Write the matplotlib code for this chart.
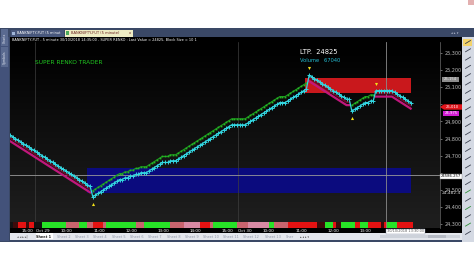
import numpy as np
import matplotlib.pyplot as plt
from matplotlib.patches import Rectangle, Polygon
from matplotlib.colors import LinearSegmentedColormap

# super renko line (cyan), one value per 5 minute bar
renko = [24820, 24810, 24800, 24790, 24780, 24770, 24760, 24750, 24740, 24730,
         24720, 24710, 24700, 24690, 24680, 24670, 24660, 24650, 24640, 24630,
         24620, 24610, 24600, 24590, 24580, 24570, 24560, 24550, 24540, 24530,
         24520,
         24460, 24470, 24480, 24490, 24500, 24510,
         24520, 24530, 24540, 24550,
         24560, 24560, 24570, 24570, 24580, 24580, 24590, 24590,
         24600, 24600, 24600,
         24610, 24620, 24630, 24640, 24650, 24660,
         24660, 24660, 24670, 24670, 24670,
         24680, 24690, 24700, 24710, 24720, 24730, 24740, 24750, 24760, 24770, 24780,
         24790, 24800, 24810, 24820, 24830, 24840, 24850, 24860, 24870,
         24880, 24880, 24880, 24880, 24880, 24880,
         24890, 24900, 24910, 24920, 24930, 24940, 24950, 24960, 24970, 24980,
         24990, 25000, 25010,
         25010, 25010,
         25020, 25030, 25040, 25050, 25060, 25070, 25080, 25090,
         25170,
         25160, 25150, 25140, 25130, 25120, 25110, 25100, 25090, 25080, 25070,
         25060, 25050, 25040, 25030, 25030,
         24960, 24970, 24980, 24990, 25000, 25010, 25010, 25020, 25020,
         25080, 25080, 25080, 25080, 25080, 25080, 25080,
         25070, 25060, 25050, 25040, 25030, 25020, 25010]

buy_bars = [31, 128]
sell_bars = [112, 137]

supply_zone = [110.5, 150.2, 25066, 25154]    # bar from, bar to, low, high
demand_zone = [29.0, 150.2, 24482.4, 24627]

cursor_bar = 140.8
cursor_price = 24586.257
day_breaks = [9.4, 85.4]

time_pos = [6.4, 12.4, 21.3, 33.3, 45.3, 57.3, 69.3, 81.6, 88.0, 96.6, 109.0, 121.0, 133.0]
time_labels = ["15:00", "Oct 29", "10:00", "11:00", "12:00", "13:00", "14:00", "15:00",
               "Oct 30", "10:00", "11:00", "12:00", "13:00"]

# bottom colour strip, runs of bars
strip_codes = ["k", "d", "r", "d", "r", "k", "g", "p", "g", "p", "r", "p", "g", "p", "g",
               "p", "l", "r", "p", "g", "p", "l", "g", "p", "r", "d", "g", "r", "d", "g",
               "g", "r", "g", "r", "d", "r", "g", "r"]
strip_runs = [1, 2, 3, 1, 2, 3, 9, 5, 3, 2, 4, 1, 11, 3, 10,
              5, 6, 4, 1, 9, 4, 8, 2, 5, 11, 3, 3, 1, 2, 2,
              3, 2, 3, 5, 1, 1, 4, 6]
strip_palette = {"k": "#111111", "d": "#3c0b0b", "r": "#e41212", "g": "#27e327",
                 "p": "#c8646e", "l": "#d88aa4"}

# price ticks hidden under the marker boxes on the axis
hidden_ticks = [25000, 24600]

sheet_names = ["Sheet %d" % k for k in range(1, 14)] + ["Sher"]
sheet_x = [44, 63.5, 81.5, 100, 118.5, 136.5, 155, 173.5, 191.5, 210.5, 230.5, 250.5, 272.5, 290]

W, H = 474, 266
fig = plt.figure(figsize=(W / 100, H / 100), dpi=100, facecolor="white")


def box(x, y, w, h):
    return fig.add_axes([x / W, 1 - (y + h) / H, w / W, h / H])


def pixel_axes(zorder):
    a = box(0, 0, W, H)
    a.set_xlim(0, W)
    a.set_ylim(H, 0)
    a.axis("off")
    a.set_zorder(zorder)
    return a


bg = pixel_axes(0)


def rect(a, x, y, w, h, c, **kw):
    a.add_patch(Rectangle((x, y), w, h, facecolor=c, lw=kw.pop("lw", 0), **kw))


# window frame
rect(bg, 0, 28, 474, 214, "#3a4866")
rect(bg, 468, 0, 6, 5, "#e3b0b0")
rect(bg, 0, 37, 9.5, 204, "#43527a")
rect(bg, 1, 29, 7.5, 17, "#5a6a90")
rect(bg, 1, 47, 7.5, 20, "#5a6a90")
bg.text(4.8, 37.5, "Charts", rotation=90, color="#e0e4f0", fontsize=2.3, ha="center", va="center")
bg.text(4.8, 57, "Symbols", rotation=90, color="#e0e4f0", fontsize=2.3, ha="center", va="center")
rect(bg, 10, 37, 452, 196, "black")
rect(bg, 462, 37, 12, 205, "#d4d9e3")
rect(bg, 10, 233, 452, 7, "#e3e6ec")
rect(bg, 380, 235, 80, 2.6, "#cdd2da")
rect(bg, 428, 234.6, 18, 3.4, "#b5bac4")

# tabs
rect(bg, 11, 30, 53, 7, "#48577c")
rect(bg, 12.5, 31.5, 3, 3.5, "#9fb5d8")
bg.text(17, 33.4, "BANKNIFTY-FUT (5 minut", color="white", fontsize=2.5, va="center")
rect(bg, 65, 29.5, 68, 7.5, "#eeecc4")
rect(bg, 66.5, 31.3, 3, 3.5, "#4caa5a")
bg.text(71.5, 33.4, "BANKNIFTY-FUT (5 minute)", color="#6a2020", fontsize=2.6, va="center")
bg.text(130, 33.4, "x", color="#6a2020", fontsize=2.6, va="center", ha="center")
bg.text(455, 33, "\u25c2 \u25b8 \u25be", color="#c8cde0", fontsize=2.4, ha="center", va="center")

# toolbar glyphs
rect(bg, 463.5, 38.5, 8.5, 7, "#f3d36a")
for k, yy in enumerate(np.arange(42, 240, 8.3)):
    col = "#2f8f3a" if yy > 180 and k % 2 == 0 else "#3b4150"
    bg.plot([465.5, 470.5], [yy + 1.5, yy - 1.5], color=col, lw=0.6)

# main price panel
ax = box(10, 42, 430, 186)
ax.set_zorder(1)
grad = LinearSegmentedColormap.from_list("bgc", ["#000000", "#1f1f1f"])
ax.imshow(np.linspace(0, 1, 64)[::-1, None], extent=(0, 161, 24277, 25364), origin="lower",
          cmap=grad, aspect="auto", zorder=0)
ax.set_xlim(0, 161)
ax.set_ylim(24277, 25364)

x = np.arange(len(renko))
r = np.array(renko, dtype=float)
up = np.zeros(len(renko), dtype=bool)
for b, s in zip(buy_bars, sell_bars):
    up[b:s] = True

for z, c in ((supply_zone, "#c9181c"), (demand_zone, "#0b0b7e")):
    ax.add_patch(Rectangle((z[0], z[2]), z[1] - z[0], z[3] - z[2], facecolor=c, lw=0, zorder=1))

for d in day_breaks:
    ax.axvline(d, color="#3e3e3e", lw=0.5, zorder=1.5)
ax.axvline(cursor_bar, color="#8c8c8c", lw=0.6, zorder=2)
ax.axhline(cursor_price, color="#9a9a9a", lw=0.6, zorder=2)

ax.plot(x, np.where(~up, r - 35, np.nan), color="#c0177c", lw=1.6, zorder=3)
ax.plot(x, np.where(~up, r - 17, np.nan), color="#6a0c26", lw=1.4, zorder=3)
ax.plot(x, np.where(up, r + 35, np.nan), color="#1d9a1d", lw=0.8, marker="s", ms=1.3,
        mec="none", mfc="#25b625", zorder=3)
ax.plot(x, r, color="#33d6e0", lw=0.9, marker="+", ms=2.6, mew=0.7, zorder=4)

ax.scatter(buy_bars, r[buy_bars] - 40, marker="^", s=5, color="#f2e01a", lw=0, zorder=5)
ax.scatter(sell_bars, r[sell_bars] + 40, marker="v", s=5, color="#f2e01a", lw=0, zorder=5)

ax.yaxis.tick_right()
yt = list(range(24300, 25301, 100))
ax.set_yticks(yt)
ax.set_yticklabels(["" if v in hidden_ticks else f"{v:,}" for v in yt])
ax.tick_params(axis="y", colors="#bdbdbd", labelsize=3.5, length=1.5, width=0.4, pad=1.8)
ax.set_xticks([])
for side in ("top", "left", "bottom"):
    ax.spines[side].set_visible(False)
ax.spines["right"].set_color("#6a6a6a")
ax.spines["right"].set_linewidth(0.5)

# colour strip and time axis
st = box(10, 222, 430, 5.5)
st.set_zorder(2)
st.patch.set_alpha(0)
starts = np.concatenate([[0], np.cumsum(strip_runs)[:-1]])
st.bar(starts, np.ones(len(strip_runs)), width=strip_runs, align="edge",
       color=[strip_palette[c] for c in strip_codes], lw=0)
st.axvline(cursor_bar, color="#8c8c8c", lw=0.6)
st.set_xlim(0, 161)
st.set_ylim(0, 1)
st.set_yticks([])
st.set_xticks(time_pos)
st.set_xticklabels(time_labels)
st.tick_params(axis="x", colors="white", labelsize=3.0, length=0, pad=1.2)
for s in st.spines.values():
    s.set_visible(False)

# texts and labels on top
top = pixel_axes(3)
top.text(12, 40, "BANKNIFTY-FUT - 5 minute 30/10/2018 14:35:00 - SUPER RENKO : Last Value = 24825, "
         "Block Size = 10 1", color="white", fontsize=2.5, va="center")
top.text(35, 62, "SUPER RENKO TRADER", color="#20c820", fontsize=4.2, va="center")
top.text(300, 52, "LTP.  24825", color="white", fontsize=4.8, va="center")
top.text(300, 60, "Volume   67040", color="#25bcd2", fontsize=3.7, va="center")

rect(top, 442, 76.5, 17, 5, "#8e8e8e")
top.text(450.5, 79, "25,154", color="#eeeeee", fontsize=2.7, ha="center", va="center")
top.add_patch(Polygon([(440, 107), (444, 104.3), (462, 104.3), (462, 109.7), (444, 109.7)],
                      facecolor="#e3141b", lw=0))
top.text(452, 107, "25,010", color="white", fontsize=2.7, ha="center", va="center")
rect(top, 443, 111, 16, 5, "#d21ed4")
top.text(451, 113.5, "24,975", color="white", fontsize=2.7, ha="center", va="center")
rect(top, 440.5, 173.5, 21.5, 5, "white", edgecolor="#888888", lw=0.3)
top.text(451.2, 176, "24586.257", color="black", fontsize=2.7, ha="center", va="center")
top.text(451.5, 193.5, "24,482.4", color="#d6d6d6", fontsize=3.2, ha="center", va="center")

rect(top, 386.5, 228.5, 39, 5, "white", edgecolor="#8a94a8", lw=0.3)
top.text(406, 231, "30/10/2018 13:30:00", color="#555555", fontsize=2.5, ha="center", va="center")

# sheet tabs
top.text(22, 236.6, "\u25c2 \u25c2 \u25b8 \u25b8|", color="#444444", fontsize=2.3, ha="center", va="center")
rect(top, 36, 233.2, 17, 6, "white")
for name, sx in zip(sheet_names, sheet_x):
    bold = name == "Sheet 1"
    top.text(sx, 236.6, name, color="#222222" if bold else "#9098a8", fontsize=2.5,
             ha="center", va="center", fontweight="bold" if bold else "normal")
top.text(305, 236.6, "\u25b4 \u25c2 \u25b8 \u25be", color="#444444", fontsize=2.2, ha="center", va="center")

fig.savefig("out.png", dpi=100)
